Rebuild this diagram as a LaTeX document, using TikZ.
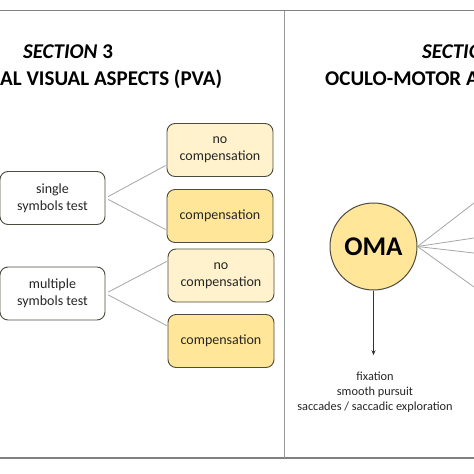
\documentclass[tikz,border=0pt]{standalone}
\usepackage{fontspec}
\setmainfont{Carlito}
\usepackage{tikz}
\usetikzlibrary{arrows.meta}
\definecolor{paleyel}{HTML}{FFF2CC}
\definecolor{yel}{HTML}{FFE699}
\definecolor{rim}{HTML}{4D4A3E}
\tikzstyle{tb}=[shape=rectangle,rounded corners=8pt,draw=rim,line width=0.9pt,minimum height=53pt,align=center,text=black!85,font=\fontsize{14}{17}\selectfont]
\tikzstyle{wb}=[tb,fill=white,minimum width=105pt]
\tikzstyle{nb}=[tb,fill=paleyel,minimum width=106pt]
\tikzstyle{cb}=[tb,fill=yel,minimum width=106pt]
\tikzstyle{common}=[draw=black!35,line width=0.8pt,shorten <=3pt,shorten >=1pt]
\tikzstyle{ray}=[draw=black!35,line width=0.8pt]
\tikzstyle{to}=[-{Stealth[length=5pt,width=4pt]},draw=black!80,line width=0.7pt]
\tikzstyle{frame}=[draw=black!50,line width=1.2pt]
\tikzstyle{hd}=[inner sep=0pt,font=\fontsize{21}{25}\selectfont\bfseries]

\begin{document}
\begin{tikzpicture}[x=1pt,y=-1pt]
            \useasboundingbox (0,0) rectangle (474,474);
            \clip (0,0) rectangle (474,474);
            % frame
            \draw[frame] (0,10.5) -- (474,10.5);
            \draw[frame] (0,458) -- (474,458);
            \draw[draw=black!40,line width=1pt] (284,11) -- (284,458);
            % headings
            \node[hd,anchor=base] (H1) at (68,58) {\textit{SECTION} 3};
            \node[hd,anchor=base west] (H2) at (0,85) {AL VISUAL ASPECTS (PVA)};
            \node[hd,anchor=base west] (H3) at (422,58) {\textit{SECTIO}};
            \node[hd,anchor=base west] (H4) at (325,85) {OCULO-MOTOR A};
            % left half
            \node[nb] (N1) at (220,150) {no\\compensation};
            \node[cb] (C1) at (220,216) {compensation};
            \node[nb] (N2) at (221,275.5) {no\\compensation};
            \node[cb] (C2) at (221,341) {compensation};
            \node[wb] (S) at (52.5,198) {single\\symbols test};
            \path (S.east) edge[common] ([yshift=-15pt]N1.west)
                           edge[common] ([yshift=-14pt]C1.west);
            \node[wb] (M) at (52.5,293.5) {multiple\\symbols test};
            \path (M.east) edge[common] ([yshift=14.5pt]N2.west)
                           edge[common] ([yshift=15pt]C2.west);
            % right half
            \node[shape=circle,draw=rim,line width=1pt,fill=yel,minimum size=87pt,inner sep=0pt,font=\fontsize{27}{30}\selectfont\bfseries] (OMA) at (373.5,246.5) {OMA};
            \coordinate (R1) at (474,203);
            \coordinate (R2) at (474,238);
            \coordinate (R3) at (474,253);
            \coordinate (R4) at (474,287);
            \path (OMA.east) edge[ray] (R1) edge[ray] (R2) edge[ray] (R3) edge[ray] (R4);
            \node[align=center,text=black!85,font=\fontsize{12.3}{15}\selectfont] (L) at (375,392) {fixation\\smooth pursuit\\saccades / saccadic exploration};
            \draw[to,shorten >=13pt] (OMA) -- (OMA |- L.north);
        \end{tikzpicture}
\end{document}
